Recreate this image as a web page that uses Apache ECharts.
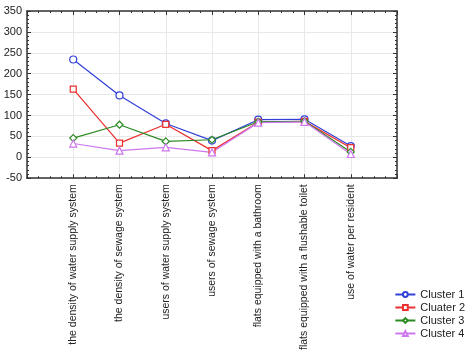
<!DOCTYPE html>
<html>
<head>
    <meta charset="utf-8">
    <title>Clusters</title>
    <script src="https://cdn.jsdelivr.net/npm/echarts@6/dist/echarts.min.js"></script>
</head>
<body style="margin:0">
    <div id="main" style="width:474px;height:353px;"></div>
    <script type="text/javascript">
        var categories = [
            'the density of water supply system',
            'the density of sewage system',
            'users of water supply system',
            'users of sewage system',
            'flats equipped with a bathroom',
            'flats equipped with a flushable toilet',
            'use of water per resident'
        ];
        var cluster1 = [234, 148, 81, 40, 90, 91, 27];
        var cluster2 = [163, 34, 79, 16, 84, 86, 23];
        var cluster3 = [46, 78, 38, 42, 85, 86, 13];
        var cluster4 = [33, 16, 24, 12, 83, 85, 8];
        var names = ['Cluster 1', 'Cluater 2', 'Cluster 3', 'Cluster 4'];
        var colors = ['#3240d8', '#ec2f2f', '#2a8a22', '#cc77ee'];
        var symbols = ['circle', 'rect', 'diamond', 'triangle'];
        var yTicks = [-50, 0, 50, 100, 150, 200, 250, 300, 350];

        // categories sit at 1..7 on a 0..8 axis
        function pts(arr) {
            return arr.map(function (v, i) { return [i + 1, v]; });
        }

        var chart = echarts.init(document.getElementById('main'));
        var frame = { show: true, onZero: false, lineStyle: { color: '#333', width: 1.5 } };
        var tick = { show: true, inside: true, length: 4, lineStyle: { color: '#333' } };
        var txt = { color: '#222', fontFamily: 'Liberation Sans' };

        var series = [cluster1, cluster2, cluster3, cluster4].map(function (arr, k) {
            return {
                name: names[k],
                type: 'line',
                data: pts(arr),
                symbol: symbols[k],
                symbolSize: k == 1 ? 6 : 7,
                color: colors[k],
                lineStyle: { width: 1.2, color: colors[k] },
                itemStyle: { color: '#fff', borderColor: colors[k], borderWidth: 1.2 }
            };
        });

        chart.setOption({
            animation: false,
            backgroundColor: '#fff',
            grid: { left: 27, top: 11, right: 77, bottom: 173 },
            legend: {
                orient: 'vertical',
                right: 4,
                bottom: 9,
                itemWidth: 20,
                itemHeight: 6,
                itemGap: 2,
                textStyle: { color: '#222', fontFamily: 'Liberation Sans', fontSize: 11 },
                data: names
            },
            xAxis: [{
                type: 'value', min: 0, max: 8, interval: 1,
                axisLine: frame,
                axisTick: tick,
                minorTick: { show: true, splitNumber: 4, length: 2, lineStyle: { color: '#333' } },
                splitLine: { show: true, lineStyle: { color: '#e8e8e8' } },
                axisLabel: Object.assign({
                    rotate: 90, margin: 6, fontSize: 10.5,
                    formatter: function (v) { return categories[v - 1] || ''; }
                }, txt)
            }, {
                type: 'value', min: 0, max: 8, interval: 1, position: 'top',
                axisLine: frame,
                axisTick: tick,
                minorTick: { show: true, splitNumber: 4, length: 2, lineStyle: { color: '#333' } },
                splitLine: { show: false },
                axisLabel: { show: false }
            }],
            yAxis: [{
                type: 'value', min: yTicks[0], max: yTicks[yTicks.length - 1], interval: 50,
                axisLine: frame,
                axisTick: tick,
                minorTick: { show: true, splitNumber: 5, length: 2, lineStyle: { color: '#333' } },
                splitLine: { show: true, lineStyle: { color: '#e8e8e8' } },
                axisLabel: Object.assign({ margin: 5, fontSize: 11 }, txt)
            }, {
                type: 'value', min: yTicks[0], max: yTicks[yTicks.length - 1], interval: 50,
                position: 'right',
                axisLine: frame,
                axisTick: tick,
                minorTick: { show: true, splitNumber: 5, length: 2, lineStyle: { color: '#333' } },
                splitLine: { show: false },
                axisLabel: { show: false }
            }],
            series: series
        });
    </script>
</body>
</html>
